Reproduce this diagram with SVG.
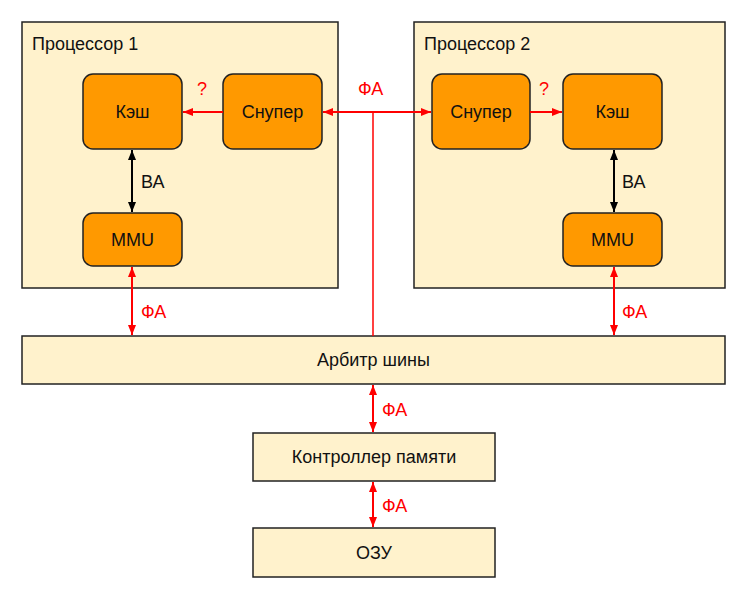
<svg xmlns="http://www.w3.org/2000/svg" width="754" height="601" viewBox="0 0 754 601">
<defs>
<style>
.box{fill:#fff2cc;stroke:#222;stroke-width:1.5}
.unit{fill:#ff9900;stroke:#222;stroke-width:1.5}
text{font-family:"Liberation Sans",Arial,sans-serif;font-size:18px;fill:#111}
.c{text-anchor:middle;dominant-baseline:central}
.r{fill:#ff0000}
.rl{stroke:#ff0000;stroke-width:2;fill:none}
.bl{stroke:#000;stroke-width:2;fill:none}
</style>
<marker id="ar" viewBox="0 0 10 10" refX="10" refY="5" markerWidth="10" markerHeight="10" markerUnits="userSpaceOnUse" orient="auto-start-reverse"><path d="M0,1 L10,5 L0,9 z" fill="#ff0000"/></marker>
<marker id="ab" viewBox="0 0 10 10" refX="10" refY="5" markerWidth="10" markerHeight="10" markerUnits="userSpaceOnUse" orient="auto-start-reverse"><path d="M0,1 L10,5 L0,9 z" fill="#000"/></marker>
</defs>
<rect width="754" height="601" fill="#fff"/>
<g id="proc1"><rect class="box" x="22" y="22" width="316" height="266"/><text x="32" y="50">Процессор 1</text></g>
<g id="proc2"><rect class="box" x="414" y="22" width="311" height="266"/><text x="424" y="50">Процессор 2</text></g>
<g id="cache1"><rect class="unit" x="83" y="74" width="99" height="75" rx="10"/><text class="c" x="132.5" y="112">Кэш</text></g>
<g id="snoop1"><rect class="unit" x="223" y="74" width="99" height="75" rx="10"/><text class="c" x="272.5" y="112">Снупер</text></g>
<g id="mmu1"><rect class="unit" x="83" y="213" width="99" height="53" rx="10"/><text class="c" x="132.5" y="240">MMU</text></g>
<g id="snoop2"><rect class="unit" x="432" y="74" width="98" height="75" rx="10"/><text class="c" x="481" y="112">Снупер</text></g>
<g id="cache2"><rect class="unit" x="563" y="74" width="99" height="75" rx="10"/><text class="c" x="612.5" y="112">Кэш</text></g>
<g id="mmu2"><rect class="unit" x="563" y="213" width="99" height="53" rx="10"/><text class="c" x="612.5" y="240">MMU</text></g>
<g id="arbiter"><rect class="box" x="22" y="336" width="703" height="48"/><text class="c" x="373.5" y="360">Арбитр шины</text></g>
<g id="memctl"><rect class="box" x="253" y="433" width="242" height="48"/><text class="c" x="374" y="457">Контроллер памяти</text></g>
<g id="ram"><rect class="box" x="253" y="528" width="242" height="49"/><text class="c" x="374" y="552.5">ОЗУ</text></g>
<g id="connectors">
<line class="rl" x1="223" y1="112" x2="183" y2="112" marker-end="url(#ar)"/>
<line class="rl" x1="530" y1="112" x2="562" y2="112" marker-end="url(#ar)"/>
<line class="rl" x1="323" y1="112" x2="431" y2="112" marker-start="url(#ar)" marker-end="url(#ar)"/>
<line x1="373" y1="112" x2="373" y2="336" stroke="#ff0000" stroke-width="1.5"/>
<line class="bl" x1="132" y1="150" x2="132" y2="212" marker-start="url(#ab)" marker-end="url(#ab)"/>
<line class="bl" x1="614" y1="150" x2="614" y2="212" marker-start="url(#ab)" marker-end="url(#ab)"/>
<line class="rl" x1="132" y1="267" x2="132" y2="335" marker-start="url(#ar)" marker-end="url(#ar)"/>
<line class="rl" x1="614" y1="267" x2="614" y2="335" marker-start="url(#ar)" marker-end="url(#ar)"/>
<line class="rl" x1="373" y1="385" x2="373" y2="432" marker-start="url(#ar)" marker-end="url(#ar)"/>
<line class="rl" x1="373" y1="482" x2="373" y2="527" marker-start="url(#ar)" marker-end="url(#ar)"/>
<text x="141" y="188">ВА</text>
<text x="622" y="188">ВА</text>
<text class="r" x="197" y="95">?</text>
<text class="r" x="539" y="95">?</text>
<text class="r" x="358" y="95">ФА</text>
<text class="r" x="141" y="318">ФА</text>
<text class="r" x="622" y="318">ФА</text>
<text class="r" x="382" y="416">ФА</text>
<text class="r" x="382" y="512">ФА</text>
</g>
</svg>
